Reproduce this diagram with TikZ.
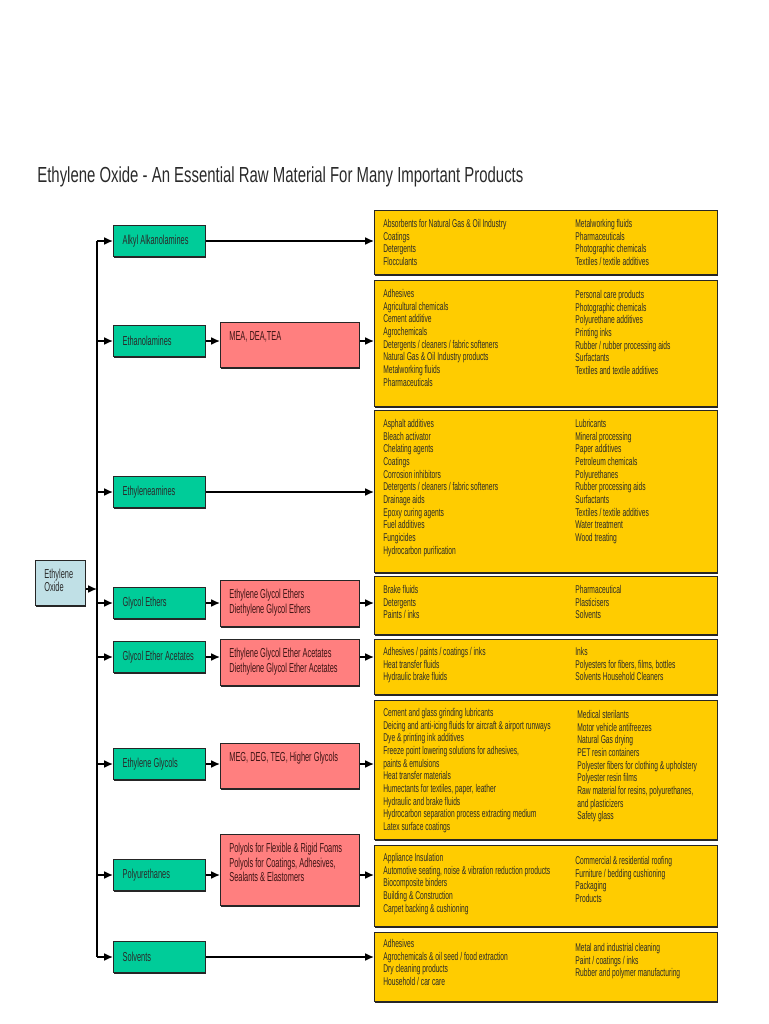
\documentclass[tikz,border=0pt]{standalone}
\usepackage{fontspec}
\setmainfont{Liberation Sans}[FakeStretch=0.595]
\newfontfamily\boxfamily{Liberation Sans}[FakeStretch=0.57]
\newfontfamily\titlefamily{Liberation Sans}[FakeStretch=0.685]
\usetikzlibrary{arrows.meta,shadows}
\definecolor{eoyellow}{HTML}{FFCC00}
\definecolor{eogreen}{HTML}{00CC99}
\definecolor{eopink}{HTML}{FF7F7F}
\definecolor{eoblue}{HTML}{C0E0E6}
\definecolor{eoink}{HTML}{2A2A2A}
\definecolor{eored}{HTML}{3E1414}
\newcommand{\listfont}{\fontsize{6.4}{7.2}\selectfont}
\newcommand{\boxfont}{\boxfamily\fontsize{7.4}{8.2}\selectfont}
\begin{document}
\begin{tikzpicture}[x=0.02cm,y=-0.02cm,
    arr/.style={-{Latex[length=5pt,width=4.5pt]},line width=0.9pt},
    basebox/.style={draw=black!85,line width=0.7pt,inner sep=0pt,
      drop shadow={shadow xshift=0.3pt,shadow yshift=-0.9pt,fill=black!85,opacity=1}},
    greenbox/.style={basebox,fill=eogreen,anchor=west,minimum width=1.84cm,
      minimum height=0.62cm,text width=1.48cm,inner xsep=0.18cm,align=flush left,
      font=\boxfont,text=eoink},
    pinkbox/.style={basebox,fill=eopink,anchor=north west,minimum width=2.78cm},
    yellowbox/.style={basebox,fill=eoyellow,anchor=north west,minimum width=6.86cm},
    listtext/.style={anchor=north west,inner sep=0pt,align=flush left,font=\listfont,text=eoink},
    boxtext/.style={anchor=north west,inner sep=0pt,align=flush left,font=\boxfont,text=eored}]
    \useasboundingbox (0,0) rectangle (768,1024);
    % Title
    \node[anchor=base west,inner sep=0pt,font=\titlefamily\fontsize{12.4}{14}\selectfont,text=eoink] (title) at (37,182)
      {Ethylene Oxide - An Essential Raw Material For Many Important Products};
    % Ethylene oxide
    \node[basebox,fill=eoblue,anchor=north west,minimum width=1.0cm,minimum height=0.9cm] (eo) at (35,560) {};
    \node[boxtext,text=eoink,font=\boxfamily\fontsize{7.4}{7}\selectfont] (eotext) at ([shift={(9,9)}]eo.north west) {Ethylene\\Oxide};
    \coordinate (tr) at (97,589);
    % Derivatives
    \node[greenbox] (g1) at (113,241) {Alkyl Alkanolamines};
    \node[greenbox] (g2) at (113,341) {Ethanolamines};
    \node[greenbox] (g3) at (113,492) {Ethyleneamines};
    \node[greenbox] (g4) at (113,603) {Glycol Ethers};
    \node[greenbox] (g5) at (113,657) {Glycol Ether Acetates};
    \node[greenbox] (g6) at (113,764) {Ethylene Glycols};
    \node[greenbox] (g7) at (113,875) {Polyurethanes};
    \node[greenbox] (g8) at (113,957) {Solvents};
    % Products
    \node[pinkbox,minimum height=0.90cm] (pk1) at (220,322) {};
    \node[pinkbox,minimum height=0.92cm] (pk2) at (220,580) {};
    \node[pinkbox,minimum height=0.92cm] (pk3) at (220,639) {};
    \node[pinkbox,minimum height=0.90cm] (pk4) at (220,743) {};
    \node[pinkbox,minimum height=1.42cm] (pk5) at (220,834) {};
    \node[boxtext] (pt1) at ([shift={(9,9)}]pk1.north west) {MEA, DEA,TEA};
    \node[boxtext] (pt2) at ([shift={(9,9)}]pk2.north west) {Ethylene Glycol Ethers\\Diethylene Glycol Ethers};
    \node[boxtext] (pt3) at ([shift={(9,9)}]pk3.north west) {Ethylene Glycol Ether Acetates\\Diethylene Glycol Ether Acetates};
    \node[boxtext] (pt4) at ([shift={(9,9)}]pk4.north west) {MEG, DEG, TEG, Higher Glycols};
    \node[boxtext] (pt5) at ([shift={(9,9)}]pk5.north west) {Polyols for Flexible \& Rigid Foams\\Polyols for Coatings, Adhesives,\\Sealants \& Elastomers};
    % Applications
    \node[yellowbox,minimum height=1.28cm] (y1) at (374,210) {};
    \node[yellowbox,minimum height=2.52cm] (y2) at (374,280) {};
    \node[yellowbox,minimum height=3.24cm] (y3) at (374,410) {};
    \node[yellowbox,minimum height=1.16cm] (y4) at (374,576) {};
    \node[yellowbox,minimum height=1.10cm] (y5) at (374,639) {};
    \node[yellowbox,minimum height=2.78cm] (y6) at (374,700) {};
    \node[yellowbox,minimum height=1.62cm] (y7) at (374,845) {};
    \node[yellowbox,minimum height=1.38cm] (y8) at (374,932) {};
    \node[listtext] (a1) at ([shift={(9,9)}]y1.north west) {Absorbents for Natural Gas \& Oil Industry\\Coatings\\Detergents\\Flocculants};
    \node[listtext] (b1) at ([shift={(201,9)}]y1.north west) {Metalworking fluids\\Pharmaceuticals\\Photographic chemicals\\Textiles / textile additives};
    \node[listtext] (a2) at ([shift={(9,9)}]y2.north west) {Adhesives\\Agricultural chemicals\\Cement additive\\Agrochemicals\\Detergents / cleaners / fabric softeners\\Natural Gas \& Oil Industry products\\Metalworking fluids\\Pharmaceuticals};
    \node[listtext] (b2) at ([shift={(201,10)}]y2.north west) {Personal care products\\Photographic chemicals\\Polyurethane additives\\Printing inks\\Rubber / rubber processing aids\\Surfactants\\Textiles and textile additives};
    \node[listtext] (a3) at ([shift={(9,9)}]y3.north west) {Asphalt additives\\Bleach activator\\Chelating agents\\Coatings\\Corrosion inhibitors\\Detergents / cleaners / fabric softeners\\Drainage aids\\Epoxy curing agents\\Fuel additives\\Fungicides\\Hydrocarbon purification};
    \node[listtext] (b3) at ([shift={(201,9)}]y3.north west) {Lubricants\\Mineral processing\\Paper additives\\Petroleum chemicals\\Polyurethanes\\Rubber processing aids\\Surfactants\\Textiles / textile additives\\Water treatment\\Wood treating};
    \node[listtext] (a4) at ([shift={(9,9)}]y4.north west) {Brake fluids\\Detergents\\Paints / inks};
    \node[listtext] (b4) at ([shift={(201,9)}]y4.north west) {Pharmaceutical\\Plasticisers\\Solvents};
    \node[listtext] (a5) at ([shift={(9,8)}]y5.north west) {Adhesives / paints / coatings / inks\\Heat transfer fluids\\Hydraulic brake fluids};
    \node[listtext] (b5) at ([shift={(201,8)}]y5.north west) {Inks\\Polyesters for fibers, films, bottles\\Solvents Household Cleaners};
    \node[listtext] (a6) at ([shift={(9,8)}]y6.north west) {Cement and glass grinding lubricants\\Deicing and anti-icing fluids for aircraft \& airport runways\\Dye \& printing ink additives\\Freeze point lowering solutions for adhesives,\\paints \& emulsions\\Heat transfer materials\\Humectants for textiles, paper, leather\\Hydraulic and brake fluids\\Hydrocarbon separation process extracting medium\\Latex surface coatings};
    \node[listtext] (b6) at ([shift={(203,10)}]y6.north west) {Medical sterilants\\Motor vehicle antifreezes\\Natural Gas drying\\PET resin containers\\Polyester fibers for clothing \& upholstery\\Polyester resin films\\Raw material for resins, polyurethanes,\\and plasticizers\\Safety glass};
    \node[listtext] (a7) at ([shift={(9,8)}]y7.north west) {Appliance Insulation\\Automotive seating, noise \& vibration reduction products\\Biocomposite binders\\Building \& Construction\\Carpet backing \& cushioning};
    \node[listtext] (b7) at ([shift={(201,11)}]y7.north west) {Commercial \& residential roofing\\Furniture / bedding cushioning\\Packaging\\Products};
    \node[listtext] (a8) at ([shift={(9,7)}]y8.north west) {Adhesives\\Agrochemicals \& oil seed / food extraction\\Dry cleaning products\\Household / car care};
    \node[listtext] (b8) at ([shift={(201,11)}]y8.north west) {Metal and industrial cleaning\\Paint / coatings / inks\\Rubber and polymer manufacturing};
    % Trunk and branches
    \draw[arr] (eo.east |- tr) -- (tr);
    \draw[line width=0.9pt] (g1 -| tr) -- (g8 -| tr);
    \foreach \g in {g1,g2,g3,g4,g5,g6,g7,g8}
      \draw[arr] (\g -| tr) -- (\g.west);
    % Links to applications
    \draw[arr] (g1.east) -- (y1.west |- g1);
    \draw[arr] (g3.east) -- (y3.west |- g3);
    \draw[arr] (g8.east) -- (y8.west |- g8);
    \foreach \g/\p/\y in {g2/pk1/y2,g4/pk2/y4,g5/pk3/y5,g6/pk4/y6,g7/pk5/y7} {
      \draw[arr] (\g.east) -- (\p.west |- \g);
      \draw[arr] (\p.east |- \g) -- (\y.west |- \g);
    }
\end{tikzpicture}
\end{document}
